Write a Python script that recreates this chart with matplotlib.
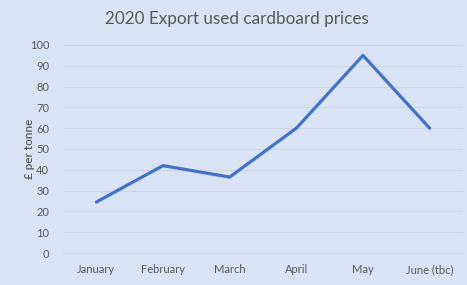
import matplotlib
matplotlib.use("Agg")
import matplotlib.pyplot as plt

months = ["January", "February", "March", "April", "May", "June (tbc)"]
prices = [24.5, 42, 36.5, 60, 95, 60]
yticks = list(range(0, 101, 10))

bg = "#DAE3F3"
txt = "#595959"
plt.rcParams['font.family'] = ['Lato', 'DejaVu Sans']

fig = plt.figure(figsize=(4.67, 2.85), dpi=100, facecolor=bg)
ax = fig.add_axes([63/467, 1-253/285, 400/467, (253-45)/285])
ax.set_facecolor(bg)
x = list(range(len(months)))
ax.plot(x, prices, color="#4472C4", linewidth=2.3, solid_capstyle="round")
ax.set_xlim(-0.5, len(months)-0.5)
ax.set_ylim(0, 100)
ax.set_yticks(yticks)
ax.set_xticks(x)
ax.set_xticklabels(months)
ax.grid(axis="y", color="#CED6E4", linewidth=0.8)
ax.set_axisbelow(True)
for s in ax.spines.values():
    s.set_visible(False)
ax.spines['bottom'].set_visible(True)
ax.spines['bottom'].set_color("#CED6E4")
ax.tick_params(length=0, labelsize=8, colors=txt, pad=8)
ax.tick_params(axis='y', pad=10)
ax.set_ylabel("£ per tonne", fontsize=8.5, color=txt, fontweight="semibold")
ax.yaxis.set_label_coords(-(63-35)/400, 0.5)
fig.text(237/467, 1-19/285, "2020 Export used cardboard prices", ha="center", va="center",
         fontsize=12.3, color=txt)
fig.savefig("out.png", dpi=100, facecolor=bg)
